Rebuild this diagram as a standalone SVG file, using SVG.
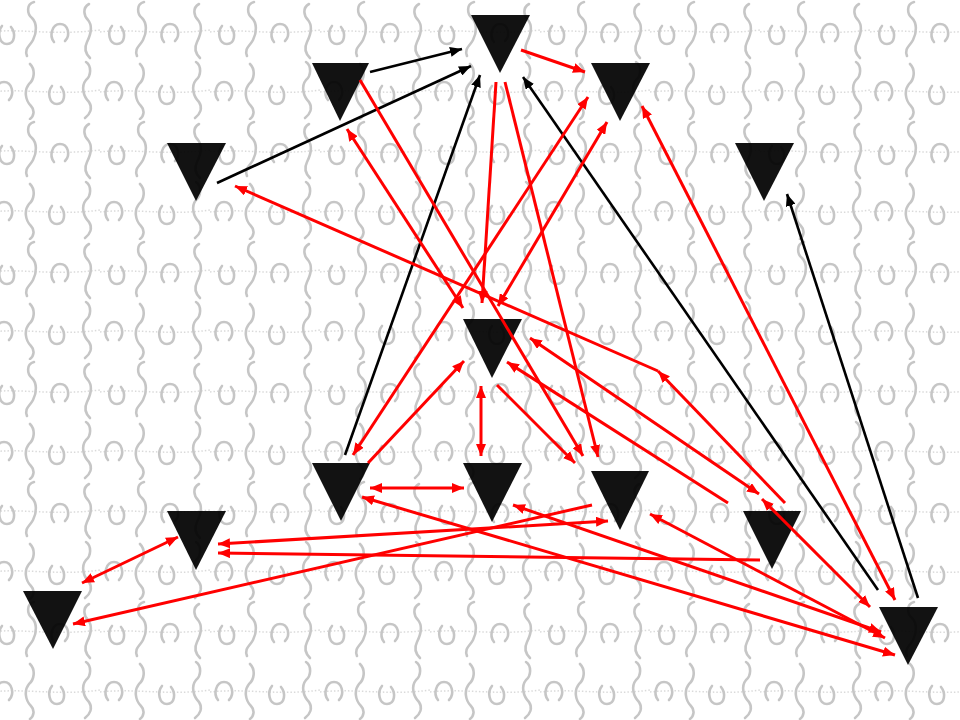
<svg xmlns="http://www.w3.org/2000/svg" width="960" height="720" viewBox="0 0 960 720">
<defs>
<pattern id="puzzle" x="-10" y="0" width="110" height="120" patternUnits="userSpaceOnUse">
<g stroke="#dadada" stroke-width="1.5" stroke-dasharray="1.5 2" fill="none">
<path d="M0,32 C30,28 60,36 110,30"/>
<path d="M0,92 C35,88 70,96 110,90"/>
</g>
<g stroke="#c6c6c6" stroke-width="2.6" fill="none" stroke-linecap="round">
<path d="M44,2 C36,4 37,14 42,18 C47,23 47,32 43,40 C40,46 34,48 37,56"/>
<path d="M12,26 C7,32 9,44 17,44 C25,44 26,33 21,27"/>
<path d="M99,4 C92,8 94,16 98,20 C103,26 101,34 97,42 C94,48 96,54 100,58"/>
<path d="M64,42 C59,36 62,24 70,24 C78,24 81,35 75,41"/>
<path d="M40,64 C46,70 44,80 39,84 C34,90 35,100 41,106 C45,110 44,116 40,119"/>
<path d="M8,100 C3,94 6,82 14,82 C22,82 25,94 19,100"/>
<path d="M96,62 C102,66 101,76 96,80 C91,86 93,96 99,102 C103,108 100,114 95,118"/>
<path d="M62,86 C57,92 59,104 67,104 C75,104 76,93 71,87"/>
</g>
</pattern>
<marker id="ar" viewBox="0 0 12 10" refX="12" refY="5" markerWidth="12" markerHeight="10" markerUnits="userSpaceOnUse" orient="auto-start-reverse">
<path d="M0,0 L12,5 L0,10 z" fill="#ff0000"/>
</marker>
<marker id="ab" viewBox="0 0 12 10" refX="12" refY="5" markerWidth="12" markerHeight="10" markerUnits="userSpaceOnUse" orient="auto-start-reverse">
<path d="M0,0 L12,5 L0,10 z" fill="#000000"/>
</marker>
</defs>
<style>
.node{fill:#000;fill-opacity:0.93}
.r{stroke:#ff0000;stroke-width:3;fill:none}
.b{stroke:#000;stroke-width:2.6;fill:none}
.r1{marker-end:url(#ar)}
.r2{marker-start:url(#ar);marker-end:url(#ar)}
.b1{marker-end:url(#ab)}
</style>
<rect width="960" height="720" fill="#ffffff"/>
<rect width="960" height="720" fill="url(#puzzle)"/>
<g id="nodes">
<g id="n-top"><polygon class="node" points="471,15 530,15 500,73"/></g>
<g id="n-a"><polygon class="node" points="312,63 369,63 340,121"/></g>
<g id="n-tr"><polygon class="node" points="591,63 650,63 620,121"/></g>
<g id="n-l"><polygon class="node" points="167,143 226,143 196,201"/></g>
<g id="n-r"><polygon class="node" points="735,143 794,143 764,201"/></g>
<g id="n-c"><polygon class="node" points="463,319 522,319 492,378"/></g>
<g id="n-7"><polygon class="node" points="312,463 370,463 341,521"/></g>
<g id="n-8"><polygon class="node" points="463,463 522,463 492,522"/></g>
<g id="n-9"><polygon class="node" points="591,471 649,471 620,530"/></g>
<g id="n-10"><polygon class="node" points="167,511 226,511 196,570"/></g>
<g id="n-11"><polygon class="node" points="23,591 82,591 53,649"/></g>
<g id="n-12"><polygon class="node" points="743,511 801,511 772,569"/></g>
<g id="n-br"><polygon class="node" points="879,607 938,607 908,665"/></g>
</g>
<g id="connectors">
<line class="b b1" x1="370" y1="72" x2="462" y2="49"/>
<line class="b b1" x1="217" y1="183" x2="471" y2="66"/>
<line class="b b1" x1="345" y1="455" x2="480" y2="75"/>
<line class="b b1" x1="878" y1="590" x2="523" y2="77"/>
<line class="b b1" x1="918" y1="598" x2="787" y2="194"/>
<line class="r r1" x1="521" y1="50" x2="585" y2="72"/>
<line class="r r1" x1="496" y1="82" x2="482" y2="303"/>
<line class="r r1" x1="505" y1="82" x2="598" y2="457"/>
<line class="r r1" x1="360" y1="80" x2="583" y2="456"/>
<line class="r r2" x1="347" y1="129" x2="463" y2="308"/>
<line class="r r2" x1="588" y1="97" x2="353" y2="455"/>
<line class="r r2" x1="607" y1="122" x2="498" y2="306"/>
<line class="r r2" x1="642" y1="106" x2="895" y2="600"/>
<line class="r r2" x1="481" y1="386" x2="481" y2="456"/>
<line class="r r1" x1="497" y1="385" x2="575" y2="463"/>
<line class="r r1" x1="368" y1="463" x2="464" y2="361"/>
<line class="r r2" x1="370" y1="488" x2="464" y2="488"/>
<line class="r r1" x1="728" y1="503" x2="507" y2="362"/>
<line class="r r2" x1="530" y1="338" x2="759" y2="494"/>
<line class="r r1" x1="785" y1="503" x2="658" y2="371"/>
<line class="r r1" x1="658" y1="371" x2="235" y2="186"/>
<line class="r r2" x1="762" y1="499" x2="870" y2="607"/>
<line class="r r2" x1="650" y1="514" x2="885" y2="638"/>
<line class="r r2" x1="513" y1="505" x2="881" y2="632"/>
<line class="r r2" x1="362" y1="497" x2="895" y2="655"/>
<line class="r r1" x1="760" y1="560" x2="218" y2="553"/>
<line class="r r2" x1="218" y1="544" x2="608" y2="521"/>
<line class="r r1" x1="592" y1="505" x2="73" y2="624"/>
<line class="r r2" x1="178" y1="537" x2="82" y2="583"/>
</g>
</svg>
